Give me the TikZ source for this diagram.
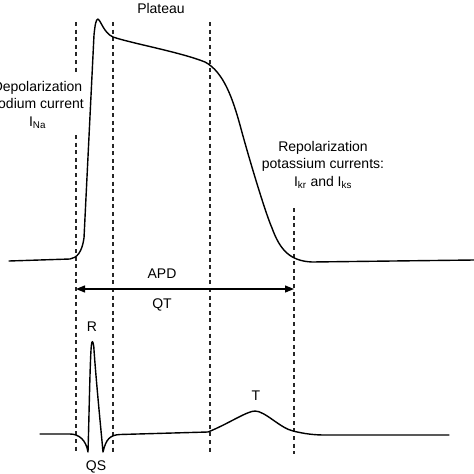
\documentclass[tikz,border=0pt]{standalone}
\usepackage{fontspec}
\setmainfont{Liberation Sans}
\usetikzlibrary{arrows.meta}
\tikzset{
  lbl/.style={align=center, inner sep=0pt, font=\fontsize{14}{17.5}\selectfont},
  guide/.style={line width=1.3pt, dash pattern=on 4pt off 3.6pt, black!85},
  trace/.style={line width=1.4pt, line join=round, line cap=round},
  span/.style={line width=1.2pt, {Triangle[length=9pt,width=7pt]}-{Triangle[length=9pt,width=7pt]}}
}
\begin{document}
\begin{tikzpicture}[x=1pt,y=-1pt]
\useasboundingbox (0,0) rectangle (474,474);
\fill[white] (0,0) rectangle (474,474);
% guide coordinates
\coordinate (d1t) at (76,22);  \coordinate (d1m) at (76,73);
\coordinate (d1n) at (76,135); \coordinate (d1b) at (76,454);
\coordinate (d2t) at (113,22); \coordinate (d2b) at (113,454);
\coordinate (d3t) at (210,22); \coordinate (d3b) at (210,454);
\coordinate (d4t) at (294,208); \coordinate (d4b) at (294,454);
\draw[guide] (d1t) -- (d1m);
\draw[guide] (d1n) -- (d1b);
\draw[guide] (d2t) -- (d2b);
\draw[guide] (d3t) -- (d3b);
\draw[guide] (d4t) -- (d4b);
% action potential
\draw[trace] (9,261) -- (70,259) .. controls (77,258) and (82,252) .. (84,238)
  -- (94,35) .. controls (95,25) and (96,19) .. (98,19)
  .. controls (101,21) and (104,33) .. (113,37)
  .. controls (130,43) and (180,52) .. (205,62)
  .. controls (224,72) and (233,100) .. (240,125)
  .. controls (248,155) and (265,212) .. (272,228)
  .. controls (280,250) and (290,261) .. (312,262) -- (474,260);
% ECG
\draw[trace] (40,434) -- (70,434) .. controls (79,434) and (86,440) .. (88,452)
  .. controls (89,420) and (90,360) .. (91.3,346) .. controls (91.9,340) and (92.9,340) .. (93.8,347)
  .. controls (96,380) and (101,430) .. (103,452)
  .. controls (106,439) and (110,435) .. (120,434.5) -- (208,432)
  .. controls (228,424) and (247,411) .. (255,411)
  .. controls (265,411) and (280,428) .. (293,431)
  .. controls (305,434) and (315,435) .. (325,435) -- (449,435);
% APD / QT arrow
\coordinate (a1) at (76,289); \coordinate (a2) at (294,289);
\draw[span] (a1) -- (a2);
% labels
\node[lbl] (plateau) at (161,8) {Plateau};
\node[lbl] (depol) at (37.5,105) {Depolarization\\sodium current\\I\textsubscript{Na}};
\node[lbl] (repol) at (323,165) {Repolarization\\potassium currents:\\I\textsubscript{kr} and I\textsubscript{ks}};
\node[lbl] (apd) at (162,274) {APD};
\node[lbl] (qt) at (162,305) {QT};
\node[lbl] (r) at (92,327) {R};
\node[lbl] (qs) at (96,467) {QS};
\node[lbl] (t) at (256,396) {T};
\end{tikzpicture}
\end{document}
